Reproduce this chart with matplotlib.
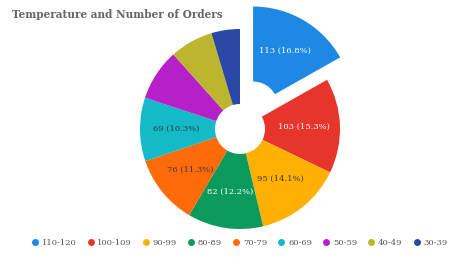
import matplotlib
matplotlib.use("Agg")
import matplotlib.pyplot as plt
from matplotlib.lines import Line2D
import math

categories = ["110-120", "100-109", "90-99", "80-89", "70-79", "60-69", "50-59", "40-49", "30-39"]
orders = [113, 103, 95, 82, 76, 69, 56, 47, 31]
colors = ["#1E88E5", "#E8352B", "#FFB000", "#0C9A5C", "#FF6A0A", "#14BAC8", "#B620C8", "#BEB52E", "#2B48A6"]
label_colors = ["white", "white", "#3a3a3a", "white", "#3a3a3a", "#2f3a3c", "white", "white", "white"]
explode = [0.26, 0, 0, 0, 0, 0, 0, 0, 0]

W, H = 474, 257
fig = plt.figure(figsize=(W / 100, H / 100), dpi=100)
ax = fig.add_axes([0, 0, 1, 1])
cx, cy, R = 240, 129, 100

total = sum(orders)
wedges, _ = ax.pie(orders, colors=colors, explode=explode, startangle=90, counterclock=False,
                   radius=1.0, wedgeprops=dict(width=0.75, linewidth=0),
                   labels=None)
ax.set_aspect("equal")
ax.set_xlim(-cx / R, (W - cx) / R)
ax.set_ylim(-(H - cy) / R, cy / R)
ax.axis("off")

angle = 90.0
for i, v in enumerate(orders):
    span = 360.0 * v / total
    mid = math.radians(angle - span / 2)
    angle -= span
    pct = 100.0 * v / total
    if pct < 10:
        continue
    d = 0.64
    ox = explode[i] * math.cos(mid)
    oy = explode[i] * math.sin(mid)
    ax.text(ox + d * math.cos(mid), oy + d * math.sin(mid), f"{v} ({pct:.1f}%)",
            ha="center", va="center", fontsize=6.0, family="DejaVu Serif",
            color=label_colors[i])

fig.text(12 / W, 1 - 14 / H, "Temperature and Number of Orders", ha="left", va="center",
         fontsize=7.6, fontweight="bold", family="DejaVu Serif", color="#666666")

handles = [Line2D([], [], marker="o", linestyle="none", markersize=5, markerfacecolor=c,
                  markeredgewidth=0) for c in colors]
leg = fig.legend(handles, categories, loc="center", bbox_to_anchor=(240 / W, 1 - 243 / H),
                 ncol=len(categories), frameon=False, handlelength=0.6, handletextpad=0.5,
                 columnspacing=1.4, prop=dict(family="DejaVu Serif", size=6))
for t in leg.get_texts():
    t.set_color("#555555")

fig.savefig("out.png", dpi=100, facecolor="white")
